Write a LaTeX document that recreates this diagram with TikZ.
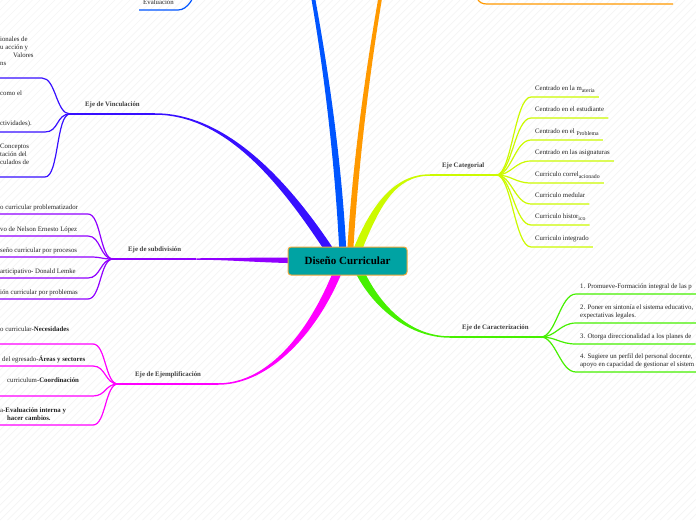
\documentclass[tikz,border=0pt]{standalone}
\usepackage{fontspec}
\setmainfont{Liberation Serif}
\usetikzlibrary{calc}
\pgfdeclarelayer{bg}
\pgfsetlayers{bg,main}
\definecolor{cBlue}{RGB}{0,85,255}
\definecolor{cOrange}{RGB}{255,153,0}
\definecolor{cIndigo}{RGB}{55,15,255}
\definecolor{cPurple}{RGB}{145,0,255}
\definecolor{cMagenta}{RGB}{255,0,255}
\definecolor{cLime}{RGB}{204,250,0}
\definecolor{cGreen}{RGB}{70,240,0}
\definecolor{cTeal}{RGB}{0,163,163}
\definecolor{cRim}{RGB}{240,168,60}
\definecolor{cText}{RGB}{35,35,35}
\definecolor{cLabel}{RGB}{65,65,65}
\newcommand\mmtaper[7]{%
  \coordinate (tA0) at ($(#2)!#6!90:(#3)$);
  \coordinate (tA1) at ($(#3)!#6!-90:(#2)$);
  \coordinate (tA2) at ($(#4)!#7!90:(#5)$);
  \coordinate (tA3) at ($(#5)!#7!-90:(#4)$);
  \coordinate (tB0) at ($(#2)!#6!-90:(#3)$);
  \coordinate (tB1) at ($(#3)!#6!90:(#2)$);
  \coordinate (tB2) at ($(#4)!#7!-90:(#5)$);
  \coordinate (tB3) at ($(#5)!#7!90:(#4)$);
  \fill[#1] (tA0) .. controls (tA1) and (tA2) .. (tA3) -- (tB3) .. controls (tB2) and (tB1) .. (tB0) -- cycle;}
\newcommand\lowsm[1]{\raisebox{-1.8pt}{\fontsize{5.8}{6}\selectfont #1}}
\tikzset{
  rootbox/.style={draw=cRim, line width=1pt, fill=cTeal, rounded corners=3pt,
    minimum width=119pt, minimum height=28pt, inner sep=0pt,
    font=\fontsize{11}{13}\selectfont\bfseries, text=black},
  mainlbl/.style={font=\fontsize{6.8}{8}\selectfont\bfseries, text=cLabel,
    inner ysep=0pt, text depth=7.5pt, anchor=south west},
  lt/.style={font=\fontsize{6.8}{8}\selectfont, text=cText, inner sep=0pt, anchor=base west},
  kidR/.style={font=\fontsize{6.8}{8.5}\selectfont, text=cText, inner xsep=4pt,
    inner ysep=0pt, text depth=6pt, anchor=south west, align=left},
  kidK/.style={kidR, text depth=5pt},
  kline/.style={line width=1.2pt},
  mline/.style={line width=1.5pt}
}
\begin{document}
\begin{tikzpicture}[x=1pt,y=-1pt]
\useasboundingbox (0,0) rectangle (696,520);
\begin{pgfonlayer}{bg}
  \fill[white] (0,0) rectangle (696,520);
  \foreach \i in {-70,...,93} \draw[black!4, line width=0.7pt] (\i*7.5,520) -- ++(520,-520);
\end{pgfonlayer}

% root
\node[rootbox] (root) at (347.5,261) {Diseño Curricular};

% main labels
\node[mainlbl, inner xsep=15pt] (mV) at (70,114) {Eje de Vinculación};
\node[mainlbl, inner xsep=15pt] (mS) at (113,259) {Eje de subdivisión};
\node[mainlbl, inner xsep=17pt] (mE) at (118,384) {Eje de Ejemplificación};
\node[mainlbl, inner xsep=12pt] (mC) at (430,175) {Eje Categorial};
\node[mainlbl, inner xsep=12pt] (mK) at (450,337) {Eje de Caracterización};

% branches
\begin{pgfonlayer}{bg}
  \coordinate (bB) at ($(root.center)+(-4.5,-6)$);
  \coordinate (bO) at ($(root.center)+(2.5,-6)$);
  \coordinate (bV) at ($(root.center)+(-15,-6)$);
  \coordinate (bS) at ($(root.center)+(-45,-0.5)$);
  \coordinate (bE) at ($(root.center)+(-8,6)$);
  \coordinate (bC) at ($(root.center)+(8,-6)$);
  \coordinate (bK) at ($(root.center)+(10,6)$);
  \coordinate (topB) at (306,-40);
  \coordinate (topO) at (387,-40);
  \mmtaper{cBlue}{bB}{338,150}{322,40}{topB}{3.5pt}{1.8pt}
  \mmtaper{cOrange}{bO}{356,150}{372,40}{topO}{3pt}{1.8pt}
  \mmtaper{cIndigo}{bV}{290,190}{230,114}{mV.south east}{4.2pt}{0.75pt}
  \mmtaper{cPurple}{bS}{260,260}{230,259}{mS.south east}{2.8pt}{0.75pt}
  \mmtaper{cMagenta}{bE}{315,330}{270,384}{mE.south east}{4.2pt}{0.75pt}
  \mmtaper{cLime}{bC}{375,205}{395,175}{mC.south west}{4.2pt}{0.75pt}
  \mmtaper{cGreen}{bK}{372,300}{405,337}{mK.south west}{4.2pt}{0.75pt}
\end{pgfonlayer}
\draw[cIndigo, mline] (mV.south west) -- (mV.south east);
\draw[cPurple, mline] (mS.south west) -- (mS.south east);
\draw[cMagenta, mline] (mE.south west) -- (mE.south east);
\draw[cLime, mline] (mC.south west) -- (mC.south east);
\draw[cGreen, mline] (mK.south west) -- (mK.south east);

% top: blue child and orange child
\node[kidK, anchor=south west] (ev) at (139,10) {Evaluación};
\coordinate (evTop) at (197,-15);
\draw[cBlue, kline] (ev.south west) -- (ev.south east) .. controls +(10,0) and +(-2,12) .. (evTop);
\coordinate (oA) at (474,-15);
\coordinate (oM) at (487,4);
\coordinate (oB) at (673,4);
\draw[cOrange, kline] (oA) .. controls +(2,12) and +(-10,0) .. (oM) -- (oB);

% Vinculacion children
\node[lt] (v1a) at (0,41) {ionales de};
\node[lt] (v1b) at (0,49) {u acción y};
\node[lt] (v1c) at (13,57) {Valores};
\node[lt] (v1d) at (0,65) {ns};
\node[lt] (v2a) at (0,95) {como el};
\node[lt] (v2b) at (0,125.5) {ctividades).};
\node[lt] (v3a) at (0,148) {Conceptos};
\node[lt] (v3b) at (0,156) {tación del};
\node[lt] (v3c) at (0,164) {culados de};
\coordinate (v1e) at (42,78);
\coordinate (v2e) at (45,132);
\coordinate (v3e) at (45,177);
\foreach \c in {v1e,v2e,v3e}
  \draw[cIndigo, kline] (mV.south west) .. controls +(-14,0) and +(14,0) .. (\c) -- ++(-60,0);

% Subdivision children
\node[lt] (s1) at (0,209) {o curricular problematizador};
\node[lt] (s2) at (0,231) {vo de Nelson Ernesto López};
\node[lt] (s3) at (0,252) {seño curricular por procesos};
\node[lt] (s4) at (0,273) {articipativo- Donald Lemke};
\node[lt] (s5) at (0,294.5) {ión curricular por problemas};
\coordinate (s1e) at (88,214);
\coordinate (s2e) at (88,236);
\coordinate (s3e) at (90,257);
\coordinate (s4e) at (88,278);
\coordinate (s5e) at (88,299);
\foreach \c in {s1e,s2e,s3e,s4e,s5e}
  \draw[cPurple, kline] (mS.south west) .. controls +(-13,0) and +(13,0) .. (\c) -- ++(-100,0);

% Ejemplificacion children
\node[lt] (e1) at (0,331) {o curricular-\textbf{Necesidades}};
\node[lt] (e2) at (2,361) {del egresado-\textbf{Áreas y sectores}};
\node[lt] (e3) at (7,382) {curriculum-\textbf{Coordinación}};
\node[lt] (e4a) at (0,412) {a-\textbf{Evaluación interna y}};
\node[lt] (e4b) at (7,420) {\textbf{hacer cambios.}};
\coordinate (e1e) at (93,344);
\coordinate (e2e) at (93,366);
\coordinate (e3e) at (93,396);
\coordinate (e4e) at (93,425);
\foreach \c in {e1e,e2e,e3e,e4e}
  \draw[cMagenta, kline] (mE.south west) .. controls +(-13,0) and +(13,0) .. (\c) -- ++(-110,0);

% Categorial children
\node[kidR] (c1) at (531,97) {Centrado en la m\lowsm{ateria}};
\node[kidR] (c2) at (531,118) {Centrado en el estudiante};
\node[kidR] (c3) at (531,140) {Centrado en el \lowsm{Problema}};
\node[kidR] (c4) at (531,161) {Centrado en las asignaturas};
\node[kidR] (c5) at (531,183) {Curriculo correl\lowsm{acionado}};
\node[kidR] (c6) at (531,204) {Curriculo medular};
\node[kidR] (c7) at (531,225) {Curriculo histor\lowsm{ico}};
\node[kidR] (c8) at (531,247) {Curriculo integrado};
\foreach \n in {c1,c2,c3,c4,c5,c6,c7,c8}
  \draw[cLime, kline] (mC.south east) .. controls +(15,0) and +(-16,0) .. (\n.south west) -- (\n.south east);

% Caracterizacion children
\node[kidK] (k1) at (576,294) {1. Promueve-Formación integral de las p};
\node[kidK] (k2) at (576,323) {2. Poner en sintonía el sistema educativo,\\expectativas legales.};
\node[kidK] (k3) at (576,344) {3. Otorga direccionalidad a los planes de};
\node[kidK] (k4) at (576,372) {4. Sugiere un perfil del personal docente,\\apoyo en capacidad de gestionar el sistem};
\foreach \n in {k1,k2,k3,k4}
  \draw[cGreen, kline] (mK.south east) .. controls +(15,0) and +(-16,0) .. (\n.south west) -- (\n.south east);
\end{tikzpicture}
\end{document}
